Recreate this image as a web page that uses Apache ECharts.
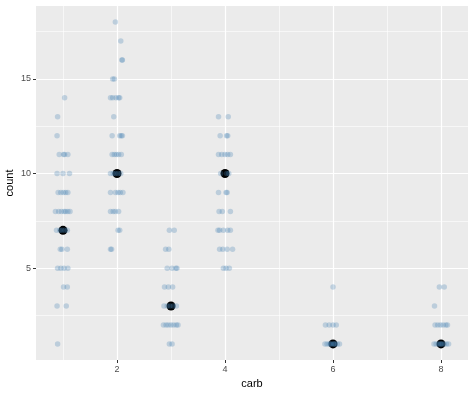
<!DOCTYPE html>
<html>
<head>
<meta charset="utf-8">
<script src="https://cdn.jsdelivr.net/npm/echarts@6/dist/echarts.min.js"></script>
<style>
html,body{margin:0;padding:0;background:#fff;}
#chart{width:474px;height:395px;}
</style>
</head>
<body>
<div id="chart"></div>
<script>
// Observed counts per carb value (mtcars)
const carbLevels = [1, 2, 3, 4, 6, 8];
const observedCounts = [7, 10, 3, 10, 1, 1];

// Bootstrap counts: [count, [jittered carb positions]]
const carb1Boot = [
  [14, [1.03]], [13, [0.90]], [12, [0.89]],
  [11, [0.93, 1.01, 1.03, 1.09]],
  [10, [0.89, 1.00, 1.12]],
  [9, [0.91, 0.96, 1.01, 1.05, 1.09]],
  [8, [0.86, 0.92, 0.97, 1.02, 1.05, 1.09, 1.13]],
  [7, [0.88, 0.94, 0.98, 1.03, 1.08]],
  [6, [0.95, 0.98, 1.08]],
  [5, [0.90, 0.96, 1.02, 1.09]],
  [4, [1.01, 1.08]], [3, [0.89, 1.06]], [1, [0.90]]
];
const carb2Boot = [
  [18, [1.97]], [17, [2.07]], [16, [2.09, 2.10]], [15, [1.92, 1.95]],
  [14, [1.88, 1.92, 1.98, 2.03, 2.05]], [13, [1.94]],
  [12, [1.91, 2.05, 2.08, 2.10]],
  [11, [1.91, 1.95, 1.99, 2.03, 2.08]],
  [10, [1.88, 1.93, 1.97, 2.02, 2.07]],
  [9, [1.88, 1.97, 2.02, 2.06, 2.11]],
  [8, [1.88, 1.93, 1.97, 2.03]],
  [7, [2.02, 2.05]], [6, [1.88, 1.90]]
];
const carb3Boot = [
  [7, [2.97, 3.06]], [6, [2.90, 2.96]],
  [5, [2.93, 3.02, 3.09, 3.11]], [4, [2.88, 2.95, 3.03]],
  [3, [2.87, 2.93, 2.98, 3.04, 3.10]],
  [2, [2.86, 2.91, 2.95, 3.00, 3.05, 3.10, 3.13]],
  [1, [2.97, 3.02]]
];
const carb4Boot = [
  [13, [3.88, 4.06]], [12, [3.91, 4.03, 4.05]],
  [11, [3.88, 3.94, 4.00, 4.05, 4.10]],
  [10, [3.92, 4.03, 4.07]], [9, [3.88, 4.02, 4.04]],
  [8, [3.89, 3.95, 4.10]], [7, [3.87, 3.90, 3.97, 4.05, 4.10]],
  [6, [3.90, 3.96, 4.04, 4.14]], [5, [3.97, 4.02, 4.08]]
];
const carb6Boot = [
  [4, [6.00]], [2, [5.86, 5.93, 6.00, 6.06]],
  [1, [5.85, 5.89, 5.93, 5.95, 5.97, 6.01, 6.02, 6.04, 6.08, 6.12]]
];
const carb8Boot = [
  [4, [7.97, 8.06]], [3, [7.88]],
  [2, [7.89, 7.94, 7.99, 8.04, 8.09, 8.12]],
  [1, [7.87, 7.91, 7.95, 7.98, 8.00, 8.02, 8.06, 8.10, 8.14]]
];

const xTicks = [2, 4, 6, 8];
const xMinor = [1, 3, 5, 7];
const yTicks = [5, 10, 15];
const yMinor = [2.5, 7.5, 12.5, 17.5];

const bootData = [];
[carb1Boot, carb2Boot, carb3Boot, carb4Boot, carb6Boot, carb8Boot].forEach(g => {
  g.forEach(([cnt, xs]) => xs.forEach(x => bootData.push([x, cnt])));
});
const obsData = carbLevels.map((c, i) => [c, observedCounts[i]]);

const font = 'Liberation Sans, Arial, Helvetica, sans-serif';
const chart = echarts.init(document.getElementById('chart'), null, {renderer: 'canvas'});
chart.setOption({
  animation: false,
  backgroundColor: '#ffffff',
  textStyle: {fontFamily: font},
  grid: {left: 36, right: 6, top: 6, bottom: 35, show: true, backgroundColor: '#EBEBEB', borderWidth: 0,
         containLabel: false, outerBoundsMode: 'none'},
  graphic: [
    {
      type: 'text', x: 10, y: 183, rotation: Math.PI / 2,
      style: {text: 'count', fill: '#000', font: '11px ' + font, align: 'center', verticalAlign: 'middle'}
    }
  ],
  xAxis: [
    {
      type: 'value', min: 0.5, max: 8.5,
      name: 'carb', nameLocation: 'middle', nameGap: 18,
      nameTextStyle: {color: '#000', fontSize: 11, fontFamily: font},
      axisLine: {show: false},
      axisTick: {show: true, length: 3, lineStyle: {color: '#333333', width: 1}, customValues: xTicks},
      axisLabel: {customValues: xTicks, color: '#4D4D4D', fontSize: 9, margin: 5, fontFamily: font},
      splitLine: {show: true, lineStyle: {color: '#ffffff', width: 1.2}}
    },
    {
      type: 'value', min: 0.5, max: 8.5, position: 'bottom',
      axisLine: {show: false},
      axisTick: {show: false, customValues: xMinor},
      axisLabel: {show: false, customValues: xMinor},
      splitLine: {show: true, lineStyle: {color: '#ffffff', width: 0.6}}
    }
  ],
  yAxis: [
    {
      type: 'value', min: 0.15, max: 18.85,
      axisLine: {show: false},
      axisTick: {show: true, length: 3, lineStyle: {color: '#333333', width: 1}, customValues: yTicks},
      axisLabel: {customValues: yTicks, color: '#4D4D4D', fontSize: 9, margin: 5, fontFamily: font},
      splitLine: {show: true, lineStyle: {color: '#ffffff', width: 1.2}}
    },
    {
      type: 'value', min: 0.15, max: 18.85, position: 'left',
      axisLine: {show: false},
      axisTick: {show: false, customValues: yMinor},
      axisLabel: {show: false, customValues: yMinor},
      splitLine: {show: true, lineStyle: {color: '#ffffff', width: 0.6}}
    }
  ],
  series: [
    {
      type: 'scatter', xAxisIndex: 0, yAxisIndex: 0,
      data: obsData, symbol: 'circle', symbolSize: 9,
      itemStyle: {color: '#000000', opacity: 1},
      z: 2
    },
    {
      type: 'scatter', xAxisIndex: 0, yAxisIndex: 0,
      data: bootData, symbol: 'circle', symbolSize: 5.5,
      itemStyle: {color: 'rgba(70,130,180,0.35)'},
      z: 3
    }
  ]
});
</script>
</body>
</html>
